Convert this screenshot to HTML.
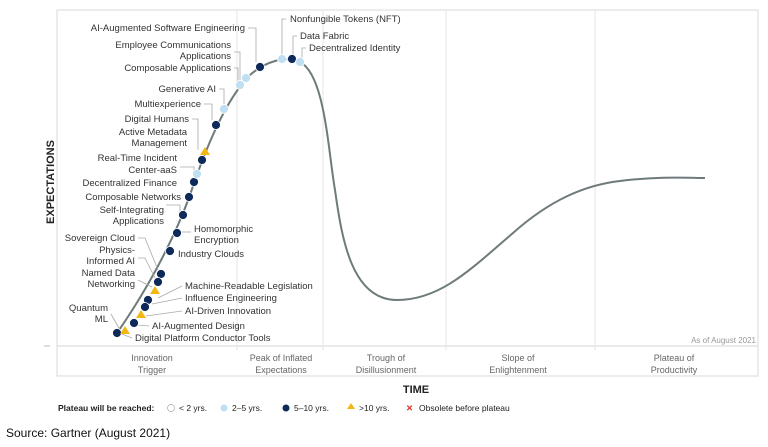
<!DOCTYPE html>
<html><head><meta charset="utf-8"><style>
body{margin:0;width:768px;height:442px;background:#fff;overflow:hidden;font-family:"Liberation Sans",sans-serif}
</style></head><body>
<svg width="768" height="442" viewBox="0 0 768 442" xmlns="http://www.w3.org/2000/svg" font-family="Liberation Sans, sans-serif">
<rect x="57" y="10" width="701" height="366" fill="none" stroke="#e0e0e0" stroke-width="1.2"/>
<line x1="57" y1="346" x2="758" y2="346" stroke="#d6d6d6"/>
<g stroke="#e4e4e4" stroke-width="1"><line x1="237" y1="10" x2="237" y2="350"/><line x1="323" y1="10" x2="323" y2="350"/><line x1="446" y1="10" x2="446" y2="350"/><line x1="595" y1="10" x2="595" y2="350"/></g>
<line x1="44" y1="346" x2="50" y2="346" stroke="#bbb"/>
<text x="0" y="0" transform="translate(54,182) rotate(-90)" text-anchor="middle" font-size="11" font-weight="bold" fill="#222">EXPECTATIONS</text>
<path d="M117,333 C140,300 170,250 190,195 C205,150 225,100 250,75 C265,62 285,55 300,62 C325,75 328,150 335,190 C342,240 352,300 397,300 C440,300 470,270 513,233 C550,200 585,185 620,181 C660,176 690,178 705,178" fill="none" stroke="#6f7a7a" stroke-width="2"/>
<g font-size="9.5" fill="#333">
<text x="245" y="31" text-anchor="end">AI-Augmented Software Engineering</text>
<text x="290" y="22">Nonfungible Tokens (NFT)</text>
<text x="300" y="39">Data Fabric</text>
<text x="309" y="51">Decentralized Identity</text>
<text x="231" y="48" text-anchor="end">Employee Communications</text>
<text x="231" y="59" text-anchor="end">Applications</text>
<text x="231" y="71" text-anchor="end">Composable Applications</text>
<text x="216" y="92" text-anchor="end">Generative AI</text>
<text x="201" y="107" text-anchor="end">Multiexperience</text>
<text x="189" y="122" text-anchor="end">Digital Humans</text>
<text x="187" y="135" text-anchor="end">Active Metadata</text>
<text x="187" y="146" text-anchor="end">Management</text>
<text x="177" y="161" text-anchor="end">Real-Time Incident</text>
<text x="177" y="173" text-anchor="end">Center-aaS</text>
<text x="177" y="186" text-anchor="end">Decentralized Finance</text>
<text x="181" y="200" text-anchor="end">Composable Networks</text>
<text x="164" y="213" text-anchor="end">Self-Integrating</text>
<text x="164" y="224" text-anchor="end">Applications</text>
<text x="194" y="232">Homomorphic</text>
<text x="194" y="243">Encryption</text>
<text x="178" y="257">Industry Clouds</text>
<text x="135" y="241" text-anchor="end">Sovereign Cloud</text>
<text x="135" y="253" text-anchor="end">Physics-</text>
<text x="135" y="264" text-anchor="end">Informed AI</text>
<text x="135" y="276" text-anchor="end">Named Data</text>
<text x="135" y="287" text-anchor="end">Networking</text>
<text x="185" y="289">Machine-Readable Legislation</text>
<text x="185" y="301">Influence Engineering</text>
<text x="185" y="314">AI-Driven Innovation</text>
<text x="108" y="311" text-anchor="end">Quantum</text>
<text x="108" y="322" text-anchor="end">ML</text>
<text x="152" y="329">AI-Augmented Design</text>
<text x="135" y="341">Digital Platform Conductor Tools</text>
</g>
<g stroke="#aaa" fill="none" stroke-width="0.8">
<path d="M248,28 H256 V62"/><path d="M286,19 H282 V55"/><path d="M297,36 H293 V55"/><path d="M306,48 H302 V58"/>
<path d="M234,52 H240 V80"/><path d="M234,68 H238 V82"/><path d="M219,89 H224 V104"/><path d="M204,104 H212 V120"/>
<path d="M192,119 H198 V150"/><path d="M180,167 H194 V170"/><path d="M166,205 H180 V213"/><path d="M191,232 H178"/>
<path d="M138,238 H145 L158,270"/><path d="M138,258 H145 L155,278"/><path d="M138,280 L152,287"/>
<path d="M182,286 L158,298"/><path d="M182,298 L152,304"/><path d="M182,311 L146,316"/><path d="M111,314 L120,330"/><path d="M149,326 L137,325"/><path d="M132,338 L122,334"/>
</g>
<g stroke="#fff" stroke-width="0.8">
<g fill="#0e2a5a">
<circle cx="260" cy="67" r="4.5"/><circle cx="292" cy="59" r="4.5"/><circle cx="216" cy="125" r="4.5"/><circle cx="202" cy="160" r="4.5"/>
<circle cx="194" cy="182" r="4.5"/><circle cx="189" cy="197" r="4.5"/><circle cx="183" cy="215" r="4.5"/><circle cx="177" cy="233" r="4.5"/>
<circle cx="170" cy="251" r="4.5"/><circle cx="161" cy="274" r="4.5"/><circle cx="158" cy="282" r="4.5"/><circle cx="148" cy="300" r="4.5"/>
<circle cx="145" cy="307" r="4.5"/><circle cx="134" cy="323" r="4.5"/><circle cx="117" cy="333" r="4.5"/>
</g>
<g fill="#bfe0f2">
<circle cx="282" cy="59" r="4.5"/><circle cx="300" cy="62" r="4.5"/><circle cx="246" cy="78" r="4.5"/><circle cx="240" cy="85" r="4.5"/>
<circle cx="224" cy="109" r="4.5"/><circle cx="197" cy="174" r="4.5"/>
</g>
<g fill="#f1b814" stroke="none">
<path d="M205,147 L210,155 L200,155Z"/><path d="M155,286 L160,294 L150,294Z"/><path d="M141,310 L146,318 L136,318Z"/><path d="M125,326 L130,334 L120,334Z"/>
</g>
</g>
<text x="756" y="343" text-anchor="end" font-size="8" fill="#999">As of August 2021</text>
<g font-size="9" fill="#666" text-anchor="middle">
<text x="152" y="361">Innovation</text><text x="152" y="373">Trigger</text>
<text x="281" y="361">Peak of Inflated</text><text x="281" y="373">Expectations</text>
<text x="386" y="361">Trough of</text><text x="386" y="373">Disillusionment</text>
<text x="518" y="361">Slope of</text><text x="518" y="373">Enlightenment</text>
<text x="674" y="361">Plateau of</text><text x="674" y="373">Productivity</text>
</g>
<text x="416" y="393" text-anchor="middle" font-size="11" font-weight="bold" fill="#222">TIME</text>
<g font-size="8.5" fill="#222">
<text x="58" y="411" font-weight="bold">Plateau will be reached:</text>
<circle cx="171" cy="408" r="3.5" fill="#fff" stroke="#aaa" stroke-width="0.7"/><text x="179" y="411">&lt; 2 yrs.</text>
<circle cx="224" cy="408" r="3.5" fill="#bfe0f2"/><text x="232" y="411">2–5 yrs.</text>
<circle cx="286" cy="408" r="3.5" fill="#0e2a5a"/><text x="294" y="411">5–10 yrs.</text>
<path d="M351,403 L355,409 L347,409Z" fill="#f1b814"/><text x="359" y="411">&gt;10 yrs.</text>
<text x="406" y="411" fill="#e0312b" font-weight="bold">✕</text><text x="419" y="411">Obsolete before plateau</text>
</g>
<text x="6" y="437" font-size="12" fill="#111">Source: Gartner (August 2021)</text>
</svg>
</body></html>
